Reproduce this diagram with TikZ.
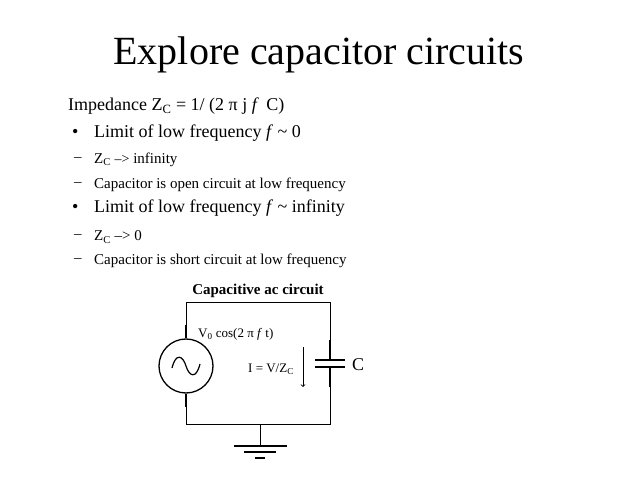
\documentclass[tikz,border=0pt]{standalone}
\usepackage{fontspec}
\setmainfont{Liberation Serif}
\begin{document}
\begin{tikzpicture}[x=1pt,y=-1pt,
  txt/.style={anchor=west,inner sep=0},
  wire/.style={line width=1pt},
  lead/.style={line width=2pt}]
\useasboundingbox (0,0) rectangle (638,478);
\node[inner sep=0] (title) at (319,55) {\fontsize{40}{44}\selectfont Explore capacitor circuits};
\node[txt] (imp) at (68,106) {\fontsize{18}{20}\selectfont Impedance Z\textsubscript{C} = 1/ (2 π j \textit{f}\, C)};
\node[txt] (b1) at (72,133) {\fontsize{18}{20}\selectfont •};
\node[txt] (t1) at (94,133) {\fontsize{18}{20}\selectfont Limit of low frequency \textit{f} \textasciitilde{} 0};
\node[txt] (d1) at (74,160) {\fontsize{15}{18}\selectfont –};
\node[txt] (s1) at (94,160) {\fontsize{15}{18}\selectfont Z\textsubscript{C} {\fontsize{14}{16}\selectfont -->} infinity};
\node[txt] (d2) at (74,185) {\fontsize{15}{18}\selectfont –};
\node[txt] (s2) at (94,185) {\fontsize{15}{18}\selectfont Capacitor is open circuit at low frequency};
\node[txt] (b2) at (72,208) {\fontsize{18}{20}\selectfont •};
\node[txt] (t2) at (94,208) {\fontsize{18}{20}\selectfont Limit of low frequency \textit{f} \textasciitilde{} infinity};
\node[txt] (d3) at (74,237) {\fontsize{15}{18}\selectfont –};
\node[txt] (s3) at (94,237) {\fontsize{15}{18}\selectfont Z\textsubscript{C} --> 0};
\node[txt] (d4) at (74,261) {\fontsize{15}{18}\selectfont –};
\node[txt] (s4) at (94,261) {\fontsize{15}{18}\selectfont Capacitor is short circuit at low frequency};
\node[inner sep=0] (cap) at (258,291) {\fontsize{15}{18}\selectfont\bfseries Capacitive ac circuit};
% circuit
\coordinate (tl) at (186,303); \coordinate (tr) at (330,303);
\coordinate (bl) at (186,425); \coordinate (br) at (330,425);
\node[draw,circle,line width=1.3pt,minimum size=54,inner sep=0] (src) at (186,366) {};
\draw[line width=1.2pt] (172,368) .. controls (176,352) and (183,356) .. (186,366) .. controls (189,376) and (196,380) .. (200,364);
\draw[wire] (src.north) -- (tl) -- (tr) -- (330,340);
\draw[wire] (src.south) -- (bl) -- (br) -- (330,387);
\draw[lead] (186,325) -- (src.north);
\draw[lead] (186,407) -- (src.south);
\draw[lead] (330,340) -- (330,360);
\draw[lead] (330,367) -- (330,387);
\draw[line width=1.5pt] (315,360) -- (345,360);
\draw[line width=1.5pt] (315,367) -- (345,367);
\node[txt] (C) at (352,365) {\fontsize{18}{20}\selectfont C};
\node[txt] (V) at (198,334) {\fontsize{13}{15}\selectfont V\textsubscript{0} cos(2 π \textit{f} t)};
\node[txt] (I) at (248,369) {\fontsize{13}{15}\selectfont I = V/Z\textsubscript{C}};
\coordinate (a1) at (303,347); \coordinate (a2) at (303,387);
\draw[->,line width=0.8pt] (a1) -- (a2);
\coordinate (g) at (260,446);
\draw[wire] (260,425) -- (g);
\draw[line width=1.2pt] (234,446) -- (287,446);
\draw[line width=1.2pt] (244,452) -- (276,452);
\draw[line width=1.5pt] (255,458) -- (265,458);
\end{tikzpicture}
\end{document}
